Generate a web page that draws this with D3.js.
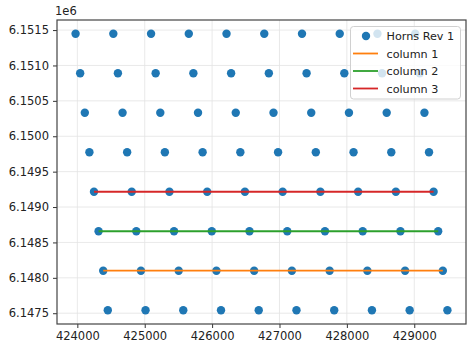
<!DOCTYPE html>
<html><head><meta charset="utf-8">
<script src="https://cdn.jsdelivr.net/npm/d3@7"></script>
<style>body{margin:0;background:#fff}svg{display:block}text{font-family:"DejaVu Sans",sans-serif}</style>
</head><body><svg id="c" width="474" height="353"></svg>
<script>
const wtX = [423974, 424042, 424111, 424179, 424247, 424315, 424384, 424452,
  424534, 424602, 424671, 424739, 424807, 424875, 424944, 425012,
  425094, 425162, 425231, 425299, 425367, 425435, 425504, 425572,
  425654, 425722, 425791, 425859, 425927, 425995, 426064, 426132,
  426214, 426282, 426351, 426419, 426487, 426555, 426624, 426692,
  426774, 426842, 426911, 426979, 427047, 427115, 427184, 427252,
  427334, 427402, 427471, 427539, 427607, 427675, 427744, 427812,
  427894, 427962, 428031, 428099, 428167, 428235, 428304, 428372,
  428454, 428522, 428591, 428659, 428727, 428795, 428864, 428932,
  429014, 429082, 429151, 429219, 429287, 429355, 429424, 429492];
const wtY = [6151447, 6150889, 6150332, 6149774, 6149216, 6148658, 6148101, 6147543,
  6151447, 6150889, 6150332, 6149774, 6149216, 6148658, 6148101, 6147543,
  6151447, 6150889, 6150332, 6149774, 6149216, 6148658, 6148101, 6147543,
  6151447, 6150889, 6150332, 6149774, 6149216, 6148658, 6148101, 6147543,
  6151447, 6150889, 6150332, 6149774, 6149216, 6148658, 6148101, 6147543,
  6151447, 6150889, 6150332, 6149774, 6149216, 6148658, 6148101, 6147543,
  6151447, 6150889, 6150332, 6149774, 6149216, 6148658, 6148101, 6147543,
  6151447, 6150889, 6150332, 6149774, 6149216, 6148658, 6148101, 6147543,
  6151447, 6150889, 6150332, 6149774, 6149216, 6148658, 6148101, 6147543,
  6151447, 6150889, 6150332, 6149774, 6149216, 6148658, 6148101, 6147543];
const col1X = [424384, 424944, 425504, 426064, 426624, 427184, 427744, 428304, 428864, 429424];
const col1Y = [6148101, 6148101, 6148101, 6148101, 6148101, 6148101, 6148101, 6148101, 6148101, 6148101];
const col2X = [424315, 424875, 425435, 425995, 426555, 427115, 427675, 428235, 428795, 429355];
const col2Y = [6148658, 6148658, 6148658, 6148658, 6148658, 6148658, 6148658, 6148658, 6148658, 6148658];
const col3X = [424247, 424807, 425367, 425927, 426487, 427047, 427607, 428167, 428727, 429287];
const col3Y = [6149216, 6149216, 6149216, 6149216, 6149216, 6149216, 6149216, 6149216, 6149216, 6149216];
const xTicks = [424000, 425000, 426000, 427000, 428000, 429000];
const yTicks = [6147500, 6148000, 6148500, 6149000, 6149500, 6150000, 6150500, 6151000, 6151500];
const seriesNames = ["Horns Rev 1", "column 1", "column 2", "column 3"];
const lineColors = ["#ff7f0e", "#2ca02c", "#d62728"];

const svg = d3.select("#c");
const L = 57, R = 466, T = 20, B = 324;
const xmin = d3.min(wtX), xmax = d3.max(wtX), ymin = d3.min(wtY), ymax = d3.max(wtY);
const mx = (xmax - xmin) * 0.05, my = (ymax - ymin) * 0.05;
const x = d3.scaleLinear().domain([xmin - mx, xmax + mx]).range([L, R]);
const y = d3.scaleLinear().domain([ymin - my, ymax + my]).range([B, T]);

// grid
const g = svg.append("g");
g.selectAll(".gx").data(xTicks).join("line").attr("x1", d => x(d)).attr("x2", d => x(d))
  .attr("y1", T).attr("y2", B).attr("stroke", "#e3e3e3").attr("stroke-width", 0.8);
g.selectAll(".gy").data(yTicks).join("line").attr("y1", d => y(d)).attr("y2", d => y(d))
  .attr("x1", L).attr("x2", R).attr("stroke", "#e3e3e3").attr("stroke-width", 0.8);

// axes
const fs = 11.5;
const xa = svg.append("g").attr("transform", `translate(0,${B})`)
  .call(d3.axisBottom(x).tickValues(xTicks).tickFormat(d3.format("d")).tickSize(4).tickPadding(4));
const ya = svg.append("g").attr("transform", `translate(${L},0)`)
  .call(d3.axisLeft(y).tickValues(yTicks).tickFormat(d => (d / 1e6).toFixed(4)).tickSize(4).tickPadding(4));
[xa, ya].forEach(a => {
  a.select(".domain").remove();
  a.selectAll("text").attr("font-size", fs).attr("fill", "#222").style("font-family", "DejaVu Sans");
  a.selectAll("line").attr("stroke", "#333");
});
svg.append("text").attr("x", L - 2).attr("y", 15).attr("font-size", fs).attr("fill", "#222").text("1e6");

// points
svg.append("g").selectAll("circle").data(wtX.map((v, i) => [v, wtY[i]])).join("circle")
  .attr("cx", d => x(d[0])).attr("cy", d => y(d[1])).attr("r", 4.2).attr("fill", "#1f77b4");

// lines
const lineGen = d3.line().x(d => x(d[0])).y(d => y(d[1]));
[[col1X, col1Y], [col2X, col2Y], [col3X, col3Y]].forEach((c, i) => {
  svg.append("path").datum(c[0].map((v, j) => [v, c[1][j]])).attr("d", lineGen)
    .attr("fill", "none").attr("stroke", lineColors[i]).attr("stroke-width", 1.8);
});

// spines
svg.append("rect").attr("x", L).attr("y", T).attr("width", R - L).attr("height", B - T)
  .attr("fill", "none").attr("stroke", "#444").attr("stroke-width", 1.2);

// legend
const lg = svg.append("g");
lg.append("rect").attr("x", 350.5).attr("y", 26.5).attr("width", 110).attr("height", 72.5).attr("rx", 3)
  .attr("fill", "rgba(255,255,255,0.8)").attr("stroke", "#d0d0d0").attr("stroke-width", 1);
const rowsY = [36, 53.5, 71, 88.5];
seriesNames.forEach((n, i) => {
  if (i === 0) {
    lg.append("circle").attr("cx", 366).attr("cy", rowsY[i]).attr("r", 4.2).attr("fill", "#1f77b4");
  } else {
    lg.append("line").attr("x1", 353).attr("x2", 378).attr("y1", rowsY[i]).attr("y2", rowsY[i])
      .attr("stroke", lineColors[i - 1]).attr("stroke-width", 1.8);
  }
  lg.append("text").attr("x", 386.5).attr("y", rowsY[i]).attr("dy", "0.36em").attr("font-size", fs - 0.3)
    .attr("fill", "#222").text(n);
});
</script></body></html>
